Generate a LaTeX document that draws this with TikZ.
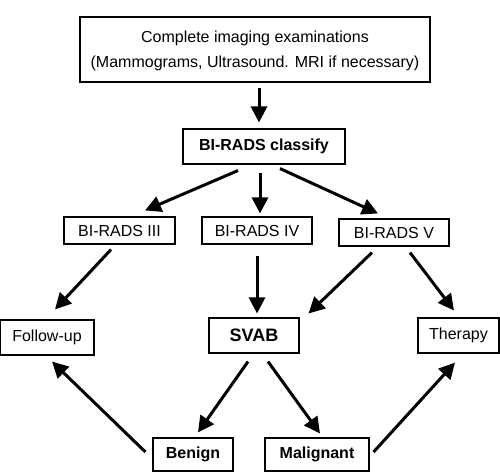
\documentclass[tikz,border=0pt]{standalone}
\usepackage{fontspec}
\setmainfont{Liberation Sans}
\usepackage{tikz}
\usetikzlibrary{arrows.meta}

\tikzset{
    box/.style={draw, line width=1.1pt, inner sep=0pt, font=\fontsize{16}{25}\selectfont},
    boldbox/.style={box, font=\fontsize{16}{24}\selectfont\bfseries},
    arr/.style={line width=3pt, -{Triangle[length=16pt,width=16pt]}}
}

\begin{document}
\begin{tikzpicture}[x=1pt, y=-1pt]
    \useasboundingbox (0,0) rectangle (500,471);

    % Boxes
    \node[box, minimum width=350pt, minimum height=65pt, align=center] (exam) at (255,49.5)
        {\rule{0pt}{15pt}Complete imaging examinations\\(Mammograms, Ultrasound. MRI if necessary)};
    \node[boldbox, minimum width=162pt, minimum height=35pt] (classify) at (264,146.5) {BI-RADS classify};

    \node[box, minimum width=111pt, minimum height=27pt] (rads3) at (119.5,230.5) {BI-RADS III};
    \node[box, minimum width=110pt, minimum height=27pt] (rads4) at (257,230.5) {BI-RADS IV};
    \node[box, minimum width=110pt, minimum height=27pt] (rads5) at (394,232.5) {BI-RADS V};

    \node[box, minimum width=94pt, minimum height=35pt] (follow) at (47,337.5) {Follow-up};
    \node[boldbox, minimum width=90pt, minimum height=35pt, font=\fontsize{18}{24}\selectfont\bfseries] (svab) at (254,335.5) {SVAB};
    \node[box, minimum width=81pt, minimum height=35pt] (therapy) at (458.5,335.5) {Therapy};

    \node[boldbox, minimum width=80pt, minimum height=33pt] (benign) at (193,454.5) {Benign};
    \node[boldbox, minimum width=104pt, minimum height=33pt] (malig) at (317,454.5) {Malignant};

    % Arrows
    \draw[arr] ([xshift=4pt,yshift=-5pt]exam.south) -- ([xshift=-5pt,yshift=6pt]classify.north);
    \draw[arr] ([xshift=-26pt,yshift=-6pt]classify.south) -- ([xshift=25.5pt,yshift=6pt]rads3.north);
    \draw[arr] ([xshift=-4pt,yshift=-8pt]classify.south) -- ([xshift=3pt,yshift=3pt]rads4.north);
    \draw[arr] ([xshift=16pt,yshift=-4pt]classify.south) -- ([xshift=-16pt,yshift=5pt]rads5.north);

    \draw[arr] ([xshift=-8.5pt,yshift=-5pt]rads3.south) -- ([xshift=8pt,yshift=10pt]follow.north);
    \draw[arr] ([yshift=-11pt]rads4.south) -- ([xshift=3pt,yshift=4pt]svab.north);
    \draw[arr] ([xshift=-22pt,yshift=-6pt]rads5.south) -- ([xshift=9pt,yshift=4pt]svab.north east);
    \draw[arr] ([xshift=16pt,yshift=-6pt]rads5.south) -- ([xshift=-4.5pt,yshift=7pt]therapy.north);

    \draw[arr] ([xshift=-6pt,yshift=-8pt]svab.south) -- ([xshift=5pt,yshift=5pt]benign.north);
    \draw[arr] ([xshift=14pt,yshift=-8pt]svab.south) -- ([xshift=3pt,yshift=4pt]malig.north);
    \draw[arr] ([xshift=-7pt,yshift=2.5pt]benign.west) -- ([xshift=5pt,yshift=-6pt]follow.south);
    \draw[arr] ([xshift=4pt,yshift=2.5pt]malig.east) -- ([xshift=-3.5pt,yshift=-9pt]therapy.south);
\end{tikzpicture}
\end{document}
